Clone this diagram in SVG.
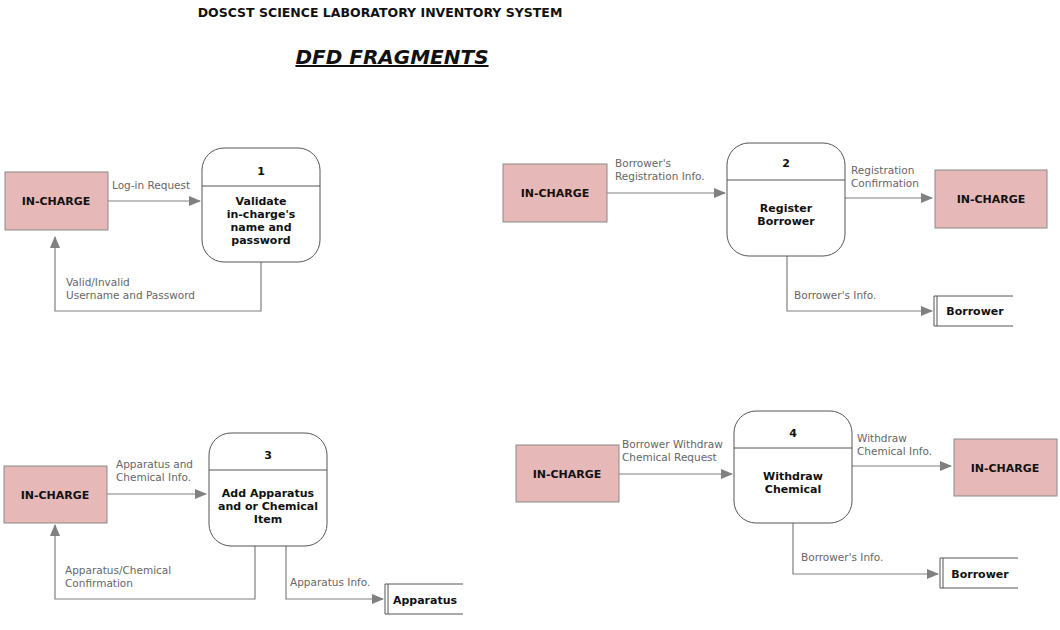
<svg xmlns="http://www.w3.org/2000/svg" width="1060" height="630" viewBox="0 0 1060 630">
<style>
text{font-family:"DejaVu Sans",Verdana,sans-serif}
.ent rect{fill:#e6b8b8;stroke:#8a8a8a;stroke-width:1}
.ent text,.proc text,.store text{font-size:11px;font-weight:bold;fill:#111;text-anchor:middle}
.proc rect{fill:#fff;stroke:#555;stroke-width:1}
.proc line{stroke:#555}
.store line{stroke:#555}
.lbl{font-size:10.5px;fill:#666}
.c path{fill:none;stroke:#808080;stroke-width:1.2}
</style>
<defs><marker id="a" markerWidth="12" markerHeight="10" refX="11" refY="5" orient="auto" markerUnits="userSpaceOnUse"><path d="M0,0L12,5L0,10z" fill="#808080"/></marker></defs>
<rect width="1060" height="630" fill="#fff"/>
<text x="380" y="17" font-size="12.5" font-weight="bold" text-anchor="middle" fill="#111">DOSCST SCIENCE LABORATORY INVENTORY SYSTEM</text>
<text x="392" y="64" font-size="20" font-weight="bold" font-style="italic" text-anchor="middle" fill="#111" text-decoration="underline">DFD FRAGMENTS</text>

<g class="c">
<path d="M108,201H200" marker-end="url(#a)"/>
<path d="M261,262V311H55V237" marker-end="url(#a)"/>
<path d="M607,193H725" marker-end="url(#a)"/>
<path d="M845,198H932" marker-end="url(#a)"/>
<path d="M787,256V311H932" marker-end="url(#a)"/>
<path d="M107,494H206" marker-end="url(#a)"/>
<path d="M255,546V599H55V525" marker-end="url(#a)"/>
<path d="M286,546V599H383" marker-end="url(#a)"/>
<path d="M619,474H732" marker-end="url(#a)"/>
<path d="M852,466H951" marker-end="url(#a)"/>
<path d="M793,523V574H938" marker-end="url(#a)"/>
<text class="lbl" x="112" y="189">Log-in Request</text>
<text class="lbl" x="66" y="286">Valid/Invalid</text>
<text class="lbl" x="66" y="299">Username and Password</text>
<text class="lbl" x="615" y="167">Borrower's</text>
<text class="lbl" x="615" y="180">Registration Info.</text>
<text class="lbl" x="851" y="174">Registration</text>
<text class="lbl" x="851" y="187">Confirmation</text>
<text class="lbl" x="794" y="299">Borrower's Info.</text>
<text class="lbl" x="116" y="468">Apparatus and</text>
<text class="lbl" x="116" y="481">Chemical Info.</text>
<text class="lbl" x="65" y="574">Apparatus/Chemical</text>
<text class="lbl" x="65" y="587">Confirmation</text>
<text class="lbl" x="290" y="586">Apparatus Info.</text>
<text class="lbl" x="622" y="448">Borrower Withdraw</text>
<text class="lbl" x="622" y="461">Chemical Request</text>
<text class="lbl" x="857" y="442">Withdraw</text>
<text class="lbl" x="857" y="455">Chemical Info.</text>
<text class="lbl" x="801" y="561">Borrower's Info.</text>
</g>

<g id="e1" class="ent"><rect x="5" y="172" width="103" height="58"/><text x="56" y="205">IN-CHARGE</text></g>
<g id="p1" class="proc"><rect x="202" y="148" width="118" height="114" rx="22"/><line x1="202" y1="186" x2="320" y2="186"/><text x="261" y="175">1</text><text x="261" y="205">Validate</text><text x="261" y="218">in-charge's</text><text x="261" y="231">name and</text><text x="261" y="244">password</text></g>

<g id="e2" class="ent"><rect x="503" y="164" width="104" height="58"/><text x="555" y="197">IN-CHARGE</text></g>
<g id="p2" class="proc"><rect x="727" y="143" width="118" height="113" rx="22"/><line x1="727" y1="180" x2="845" y2="180"/><text x="786" y="167">2</text><text x="786" y="212">Register</text><text x="786" y="225">Borrower</text></g>
<g id="e2b" class="ent"><rect x="935" y="170" width="112" height="58"/><text x="991" y="203">IN-CHARGE</text></g>
<g id="s2" class="store"><line x1="934" y1="296" x2="1013" y2="296"/><line x1="934" y1="326" x2="1013" y2="326"/><line x1="934" y1="296" x2="934" y2="326"/><line x1="937" y1="296" x2="937" y2="326"/><text x="975" y="315">Borrower</text></g>

<g id="e3" class="ent"><rect x="4" y="466" width="103" height="57"/><text x="55" y="499">IN-CHARGE</text></g>
<g id="p3" class="proc"><rect x="209" y="433" width="118" height="113" rx="22"/><line x1="209" y1="470" x2="327" y2="470"/><text x="268" y="459">3</text><text x="268" y="497">Add Apparatus</text><text x="268" y="510">and or Chemical</text><text x="268" y="523">Item</text></g>
<g id="s3" class="store"><line x1="385" y1="584" x2="463" y2="584"/><line x1="385" y1="614" x2="463" y2="614"/><line x1="385" y1="584" x2="385" y2="614"/><line x1="388" y1="584" x2="388" y2="614"/><text x="425" y="604">Apparatus</text></g>

<g id="e4" class="ent"><rect x="516" y="445" width="103" height="57"/><text x="567" y="478">IN-CHARGE</text></g>
<g id="p4" class="proc"><rect x="734" y="411" width="118" height="112" rx="22"/><line x1="734" y1="448" x2="852" y2="448"/><text x="793" y="437">4</text><text x="793" y="480">Withdraw</text><text x="793" y="493">Chemical</text></g>
<g id="e4b" class="ent"><rect x="954" y="439" width="103" height="57"/><text x="1005" y="472">IN-CHARGE</text></g>
<g id="s4" class="store"><line x1="940" y1="558" x2="1018" y2="558"/><line x1="940" y1="588" x2="1018" y2="588"/><line x1="940" y1="558" x2="940" y2="588"/><line x1="943" y1="558" x2="943" y2="588"/><text x="980" y="578">Borrower</text></g>
</svg>
